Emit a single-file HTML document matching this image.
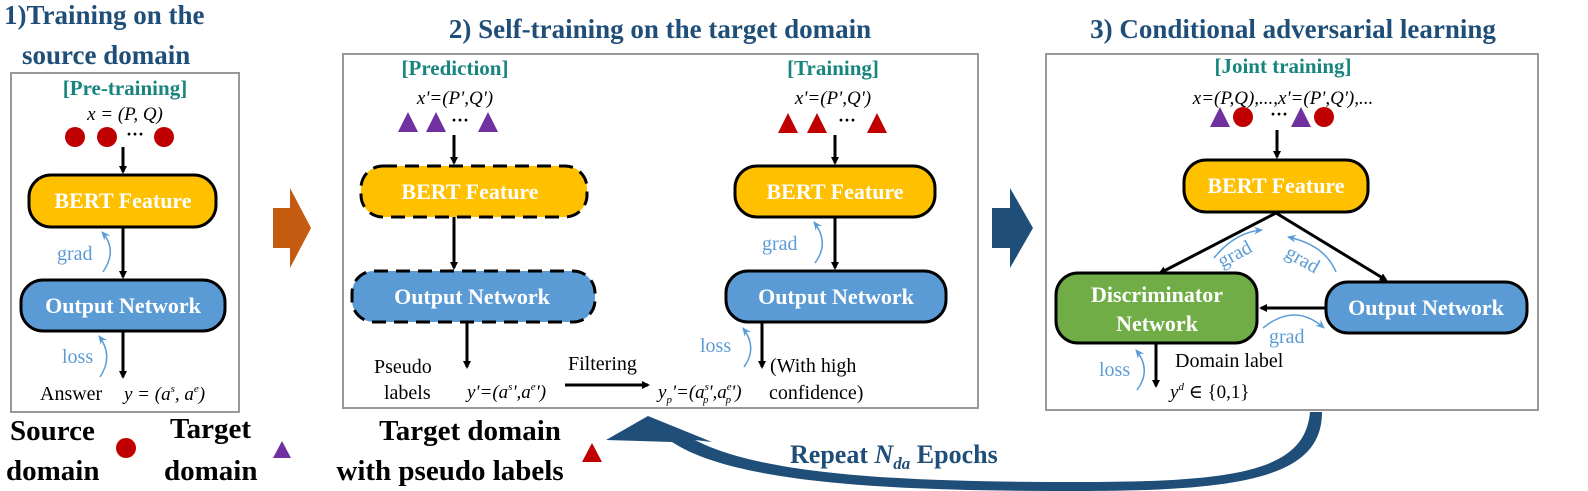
<!DOCTYPE html>
<html><head><meta charset="utf-8"><style>
html,body{margin:0;padding:0;background:#fff;}
svg{display:block;}
svg text{font-family:"Liberation Serif","Times New Roman","DejaVu Serif",serif;}
.t{font-weight:bold;fill:#1f4e79;font-size:27px;}
.tl{font-weight:bold;fill:#17857d;font-size:21px;}
.bx{font-weight:bold;fill:#fff;font-size:22px;}
.m{font-size:19px;font-style:italic;fill:#000;}
.n{font-size:20px;fill:#000;}
.g{font-size:20px;fill:#5b9bd5;}
.lg{font-weight:bold;fill:#000;font-size:29px;}
</style></head><body>
<svg width="1588" height="491" viewBox="0 0 1588 491" xmlns="http://www.w3.org/2000/svg" font-family="Liberation Serif, serif">
<defs>
<marker id="ah" markerWidth="8" markerHeight="8" refX="6" refY="4" orient="auto" markerUnits="userSpaceOnUse" viewBox="0 0 8 8"><path d="M0,0 L8,4 L0,8 Z" fill="#000"/></marker>
<marker id="ab" markerWidth="10" markerHeight="10" refX="8" refY="5" orient="auto" markerUnits="userSpaceOnUse"><path d="M0,1 L9,5 L0,9 L3,5Z" fill="#5b9bd5"/></marker>
</defs>

<!-- Titles -->
<text class="t" x="4" y="24">1)Training on the</text>
<text class="t" x="22" y="64">source domain</text>
<text class="t" x="660" y="38" text-anchor="middle">2) Self-training on the target domain</text>
<text class="t" x="1293" y="38" text-anchor="middle">3) Conditional adversarial learning</text>

<!-- Panel boxes -->
<rect x="11" y="73" width="228" height="339" fill="none" stroke="#999" stroke-width="2"/>
<rect x="343" y="54" width="635" height="354" fill="none" stroke="#999" stroke-width="2"/>
<rect x="1046" y="54" width="492" height="356" fill="none" stroke="#999" stroke-width="2"/>

<!-- Panel 1 -->
<text class="tl" x="125" y="95" text-anchor="middle">[Pre-training]</text>
<text class="m" x="125" y="120" text-anchor="middle">x = (P, Q)</text>
<circle cx="75" cy="137" r="10" fill="#c00000"/><circle cx="107" cy="137" r="10" fill="#c00000"/><circle cx="164" cy="137" r="10" fill="#c00000"/>
<text x="135" y="140" text-anchor="middle" font-size="18" font-weight="bold">···</text>
<line x1="123" y1="147" x2="123" y2="172" stroke="#000" stroke-width="3" marker-end="url(#ah)"/>
<rect x="29" y="175" width="187" height="52" rx="22" fill="#ffc000" stroke="#000" stroke-width="3"/>
<text class="bx" x="123" y="208" text-anchor="middle">BERT Feature</text>
<line x1="123" y1="227" x2="123" y2="277" stroke="#000" stroke-width="3" marker-end="url(#ah)"/>
<text class="g" x="57" y="260">grad</text>
<path d="M103,272 Q118,250 102,232" fill="none" stroke="#5b9bd5" stroke-width="1.5" marker-end="url(#ab)"/>
<rect x="21" y="280" width="204" height="51" rx="22" fill="#5b9bd5" stroke="#000" stroke-width="3"/>
<text class="bx" x="123" y="313" text-anchor="middle">Output Network</text>
<line x1="123" y1="331" x2="123" y2="377" stroke="#000" stroke-width="3" marker-end="url(#ah)"/>
<text class="g" x="62" y="363">loss</text>
<path d="M100,377 Q114,356 99,336" fill="none" stroke="#5b9bd5" stroke-width="1.5" marker-end="url(#ab)"/>
<text class="n" x="40" y="400">Answer</text>
<text class="m" x="124" y="400">y = (a<tspan font-size="11" dy="-8">s</tspan><tspan dy="8">, a</tspan><tspan font-size="11" dy="-8">e</tspan><tspan dy="8">)</tspan></text>

<!-- Legend -->
<text class="lg" x="10" y="440">Source</text>
<text class="lg" x="6" y="480">domain</text>
<circle cx="126" cy="448" r="10" fill="#c00000"/>
<text class="lg" x="170" y="438">Target</text>
<text class="lg" x="164" y="480">domain</text>
<polygon points="282,441 273,458 291,458" fill="#7030a0"/>
<text class="lg" x="470" y="440" text-anchor="middle">Target domain</text>
<text class="lg" x="450" y="480" text-anchor="middle">with pseudo labels</text>
<polygon points="592,443 582,462 602,462" fill="#c00000"/>

<!-- Orange arrow -->
<polygon points="273,208 290,208 290,188 311,228 290,268 290,248 273,248" fill="#c55a11"/>
<!-- Blue arrow -->
<polygon points="992,208 1010,208 1010,188 1033,228 1010,268 1010,248 992,248" fill="#1f4e79"/>

<!-- Panel 2 left -->
<text class="tl" x="455" y="75" text-anchor="middle">[Prediction]</text>
<text class="m" x="455" y="104" text-anchor="middle">x'=(P',Q')</text>
<polygon points="408,112 398,132 418,132" fill="#7030a0"/>
<polygon points="436,112 426,132 446,132" fill="#7030a0"/>
<polygon points="488,112 478,132 498,132" fill="#7030a0"/>
<text x="460" y="126" text-anchor="middle" font-size="18" font-weight="bold">···</text>
<line x1="454" y1="135" x2="454" y2="163" stroke="#000" stroke-width="3" marker-end="url(#ah)"/>
<rect x="361" y="166" width="226" height="51" rx="22" fill="#ffc000" stroke="#000" stroke-width="3" stroke-dasharray="14,8"/>
<text class="bx" x="470" y="199" text-anchor="middle">BERT Feature</text>
<line x1="454" y1="217" x2="454" y2="268" stroke="#000" stroke-width="3" marker-end="url(#ah)"/>
<rect x="352" y="271" width="243" height="51" rx="22" fill="#5b9bd5" stroke="#000" stroke-width="3" stroke-dasharray="14,8"/>
<text class="bx" x="472" y="304" text-anchor="middle">Output Network</text>
<line x1="467" y1="322" x2="467" y2="367" stroke="#000" stroke-width="3" marker-end="url(#ah)"/>
<text class="n" x="374" y="373">Pseudo</text>
<text class="n" x="384" y="399">labels</text>
<text class="m" x="467" y="398">y'=(a<tspan font-size="11" dy="-8">s</tspan><tspan dy="8">',a</tspan><tspan font-size="11" dy="-8">e</tspan><tspan dy="8">')</tspan></text>
<text class="n" x="568" y="370">Filtering</text>
<line x1="565" y1="385" x2="648" y2="385" stroke="#000" stroke-width="3" marker-end="url(#ah)"/>
<text class="m" x="658" y="398">y<tspan font-size="11" dy="5">p</tspan><tspan dy="-5">'=(a</tspan><tspan font-size="11" dy="-8">s</tspan><tspan font-size="11" dx="-6" dy="13">p</tspan><tspan dy="-5">',a</tspan><tspan font-size="11" dy="-8">e</tspan><tspan font-size="11" dx="-6" dy="13">p</tspan><tspan dy="-5">')</tspan></text>
<text class="n" x="770" y="372">(With high</text>
<text class="n" x="769" y="399">confidence)</text>

<!-- Panel 2 right -->
<text class="tl" x="833" y="75" text-anchor="middle">[Training]</text>
<text class="m" x="833" y="104" text-anchor="middle">x'=(P',Q')</text>
<polygon points="788,113 778,133 798,133" fill="#c00000"/>
<polygon points="817,113 807,133 827,133" fill="#c00000"/>
<polygon points="877,113 867,133 887,133" fill="#c00000"/>
<text x="847" y="126" text-anchor="middle" font-size="18" font-weight="bold">···</text>
<line x1="835" y1="135" x2="835" y2="163" stroke="#000" stroke-width="3" marker-end="url(#ah)"/>
<rect x="735" y="166" width="200" height="51" rx="22" fill="#ffc000" stroke="#000" stroke-width="3"/>
<text class="bx" x="835" y="199" text-anchor="middle">BERT Feature</text>
<line x1="835" y1="217" x2="835" y2="268" stroke="#000" stroke-width="3" marker-end="url(#ah)"/>
<text class="g" x="762" y="250">grad</text>
<path d="M815,263 Q830,243 814,222" fill="none" stroke="#5b9bd5" stroke-width="1.5" marker-end="url(#ab)"/>
<rect x="726" y="271" width="220" height="51" rx="22" fill="#5b9bd5" stroke="#000" stroke-width="3"/>
<text class="bx" x="836" y="304" text-anchor="middle">Output Network</text>
<line x1="762" y1="322" x2="762" y2="367" stroke="#000" stroke-width="3" marker-end="url(#ah)"/>
<text class="g" x="700" y="352">loss</text>
<path d="M744,367 Q758,348 743,328" fill="none" stroke="#5b9bd5" stroke-width="1.5" marker-end="url(#ab)"/>

<!-- Panel 3 -->
<text class="tl" x="1283" y="73" text-anchor="middle">[Joint training]</text>
<text class="m" x="1283" y="104" text-anchor="middle">x=(P,Q),...,x'=(P',Q'),...</text>
<polygon points="1220,107 1210,127 1230,127" fill="#7030a0"/>
<circle cx="1243" cy="117" r="10" fill="#c00000"/>
<text x="1279" y="120" text-anchor="middle" font-size="18" font-weight="bold">···</text>
<polygon points="1301,107 1291,127 1311,127" fill="#7030a0"/>
<circle cx="1324" cy="117" r="10" fill="#c00000"/>
<line x1="1277" y1="130" x2="1277" y2="157" stroke="#000" stroke-width="3" marker-end="url(#ah)"/>
<rect x="1184" y="160" width="184" height="52" rx="22" fill="#ffc000" stroke="#000" stroke-width="3"/>
<text class="bx" x="1276" y="193" text-anchor="middle">BERT Feature</text>
<line x1="1276" y1="213" x2="1160" y2="273" stroke="#000" stroke-width="3" marker-end="url(#ah)"/>
<line x1="1276" y1="213" x2="1386" y2="280" stroke="#000" stroke-width="3" marker-end="url(#ah)"/>
<text class="g" x="0" y="0" transform="translate(1222,268) rotate(-28)">grad</text>
<path d="M1214,258 Q1235,232 1262,230" fill="none" stroke="#5b9bd5" stroke-width="1.5" marker-end="url(#ab)"/>
<text class="g" x="0" y="0" transform="translate(1284,256) rotate(30)">grad</text>
<path d="M1336,272 Q1325,245 1288,237" fill="none" stroke="#5b9bd5" stroke-width="1.5" marker-end="url(#ab)"/>
<rect x="1056" y="273" width="201" height="70" rx="22" fill="#70ad47" stroke="#000" stroke-width="3"/>
<text class="bx" x="1157" y="302" text-anchor="middle">Discriminator</text>
<text class="bx" x="1157" y="331" text-anchor="middle">Network</text>
<rect x="1326" y="282" width="201" height="51" rx="22" fill="#5b9bd5" stroke="#000" stroke-width="3"/>
<text class="bx" x="1426" y="315" text-anchor="middle">Output Network</text>
<line x1="1325" y1="308" x2="1261" y2="308" stroke="#000" stroke-width="3" marker-end="url(#ah)"/>
<text class="g" x="1269" y="343">grad</text>
<path d="M1263,328 Q1295,302 1324,328" fill="none" stroke="#5b9bd5" stroke-width="1.5" marker-end="url(#ab)"/>
<line x1="1156" y1="343" x2="1156" y2="386" stroke="#000" stroke-width="3" marker-end="url(#ah)"/>
<text class="g" x="1099" y="376">loss</text>
<path d="M1137,390 Q1152,370 1136,350" fill="none" stroke="#5b9bd5" stroke-width="1.5" marker-end="url(#ab)"/>
<text class="n" x="1175" y="367">Domain label</text>
<text class="m" x="1170" y="398">y<tspan font-size="11" dy="-8">d</tspan><tspan dy="8" font-style="normal"> ∈ {0,1}</tspan></text>

<!-- Repeat arrow -->
<path d="M1310,412 C1305,470 1240,482 1080,482 C950,482 770,480 695,440 L712,442 L648,416 L606,440 L672,442 C740,487 920,491 1080,491 C1250,491 1322,475 1322,412 Z" fill="#1f4e79"/>
<text x="790" y="463" font-weight="bold" fill="#1f4e79" font-size="26">Repeat <tspan font-style="italic">N</tspan><tspan font-style="italic" font-size="17" dy="6">da</tspan><tspan dy="-6"> Epochs</tspan></text>
</svg>
</body></html>
